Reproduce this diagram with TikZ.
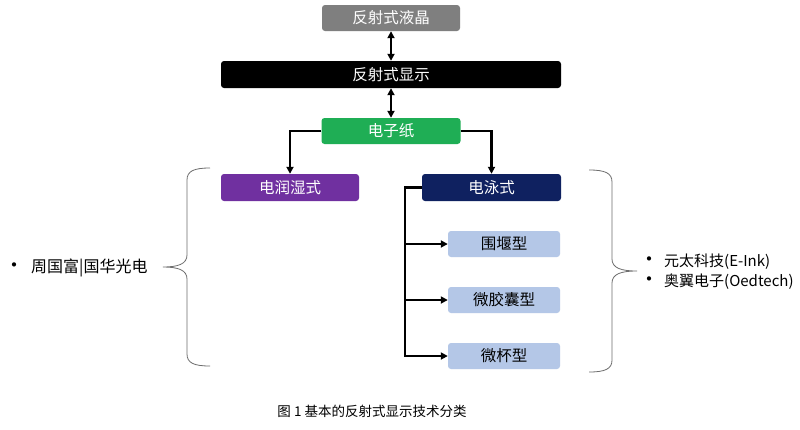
\documentclass[tikz,border=0pt]{standalone}
\usepackage{fontspec}
\setmainfont{Noto Sans CJK SC}
\usetikzlibrary{arrows.meta}
\definecolor{cgray}{HTML}{7F7F7F}
\definecolor{cgreen}{HTML}{1FAE55}
\definecolor{cpurple}{HTML}{7030A0}
\definecolor{cnavy}{HTML}{0F2160}
\definecolor{clight}{HTML}{B4C7E7}
\definecolor{cbrace}{HTML}{6E6E6E}
\newcommand{\bul}{{\fontsize{20}{20}\selectfont\raisebox{-1pt}{·}}}
\tikzset{
  box/.style={rounded corners=3pt, inner sep=0pt, font=\fontsize{15.5}{18}\selectfont, text=white},
  subbox/.style={box, fill=clight, text=black, minimum width=112pt, minimum height=26pt},
  arr/.style={line width=2.6pt, -{Triangle[length=7pt,width=7pt]}},
  dbl/.style={line width=2.6pt, {Triangle[length=7pt,width=7pt]}-{Triangle[length=7pt,width=7pt]}},
  bracel/.style={draw=cbrace, line width=0.8pt},
  plain/.style={font=\fontsize{15}{20}\selectfont, inner sep=0pt}
}
\begin{document}
\begin{tikzpicture}[x=1pt,y=-1pt]
\useasboundingbox[fill=white] (0,0) rectangle (800,429);
\node[box, fill=cgray, minimum width=138pt, minimum height=26pt] (liquid) at (391,18) {反射式液晶};
\node[box, fill=black, minimum width=340pt, minimum height=27pt] (disp) at (391,74.5) {反射式显示};
\node[box, fill=cgreen, minimum width=139pt, minimum height=26pt] (paper) at (391,131) {电子纸};
\node[box, fill=cpurple, minimum width=138pt, minimum height=27pt] (ew) at (290,187.5) {电润湿式};
\node[box, fill=cnavy, minimum width=139pt, minimum height=27pt] (ep) at (491.5,187.5) {电泳式};
\node[subbox] (wy) at (504,244) {围堰型};
\node[subbox] (wj) at (504,300) {微胶囊型};
\node[subbox] (wb) at (504,356) {微杯型};

\draw[dbl] (liquid.south) -- (disp.north);
\draw[dbl] (disp.south) -- (paper.north);
\draw[arr] (paper.west) -| (ew.north);
\draw[arr] (paper.east) -| (ep.north);
\coordinate (trunk) at (405,187.5);
\draw[arr] (ep.west) -- (trunk) |- (wb.west);
\draw[arr] (trunk |- wy.west) -- (wy.west);
\draw[arr] (trunk |- wj.west) -- (wj.west);

% braces
\draw[bracel] (210,168) .. controls (194,168) and (187,171) .. (187,180) -- (187,255)
  .. controls (187,264) and (178,267) .. (163,267)
  .. controls (178,267) and (187,270) .. (187,279) -- (187,354)
  .. controls (187,363) and (194,366) .. (210,366);
\draw[bracel] (589,170) .. controls (605,170) and (612,173) .. (612,182) -- (612,259)
  .. controls (612,268) and (621,271) .. (637,271)
  .. controls (621,271) and (612,274) .. (612,283) -- (612,360)
  .. controls (612,369) and (605,372) .. (589,372);

\node[font=\fontsize{16}{20}\selectfont, inner sep=0pt, anchor=west] (lt) at (31,268) {周国富|国华光电};
\node[inner sep=0pt] (lb) at (15,268) {\bul};
\node[plain, anchor=west, align=left] (rt) at (664,272) {元太科技(E-Ink)\\奥翼电子(Oedtech)};
\node[inner sep=0pt] (rb1) at (649,262) {\bul};
\node[inner sep=0pt] (rb2) at (649,282) {\bul};
\node[font=\fontsize{13.5}{16}\selectfont, inner sep=0pt] (cap) at (372,411) {图 1 基本的反射式显示技术分类};
\end{tikzpicture}
\end{document}
